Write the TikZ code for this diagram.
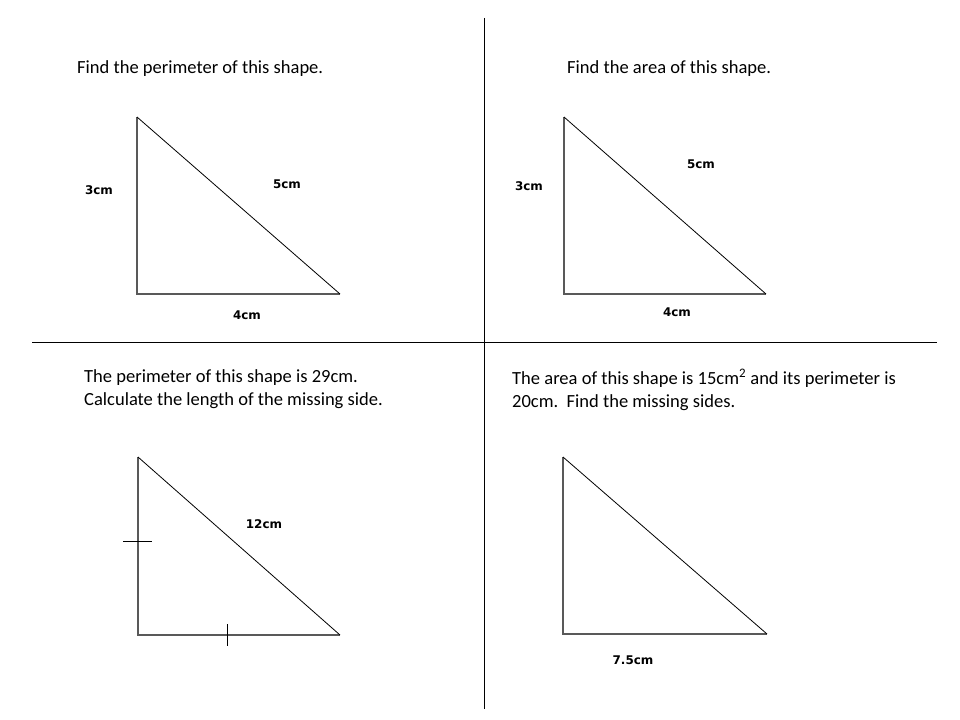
\documentclass[tikz,border=0pt]{standalone}
\usepackage{fontspec}
\setmainfont{Carlito}
\newfontfamily\labelfont{DejaVu Sans}
\usetikzlibrary{positioning}

\begin{document}
\begin{tikzpicture}[x=1bp, y=-1bp,
        question/.style={anchor=base west, inner sep=0pt, align=left,
            font=\fontsize{18.6}{23}\selectfont},
        side/.style={inner sep=0pt, font=\labelfont\bfseries\fontsize{12}{14}\selectfont},
        leg/.style={draw=black!65, line width=1.3bp},
        hyp/.style={draw=black, line width=0.8bp},
        divider/.style={draw=black, line width=1bp},
        tickmark/.style={draw=black, line width=0.8bp}]
    \useasboundingbox (0,0) rectangle (960,720);

    % dividing lines
    \coordinate (vtop) at (484,18);
    \coordinate (vbot) at (484,709);
    \coordinate (hleft) at (32,342.5);
    \coordinate (hright) at (937,342.5);
    \draw[divider] (vtop) -- (vbot);
    \draw[divider] (hleft) -- (hright);

    % top left
    \node[question] (q1) at (77,74) {Find the perimeter of this shape.};
    \coordinate (a1) at (137,117);
    \coordinate (b1) at (137,294);
    \coordinate (c1) at (340,294);
    \draw[leg] (a1) -- (b1) -- (c1);
    \draw[hyp] (c1) -- (a1);
    \node[side] (s1) at (99,190) {3cm};
    \node[side] (h1) at (287,184) {5cm};
    \node[side] (w1) at (247,315) {4cm};

    % top right
    \node[question] (q2) at (567,74) {Find the area of this shape.};
    \coordinate (a2) at (564,117);
    \coordinate (b2) at (564,294);
    \coordinate (c2) at (766,294);
    \draw[leg] (a2) -- (b2) -- (c2);
    \draw[hyp] (c2) -- (a2);
    \node[side] (s2) at (529,186) {3cm};
    \node[side] (h2) at (701,164) {5cm};
    \node[side] (w2) at (677,312) {4cm};

    % bottom left
    \node[question] (q3) at (84,405) {The perimeter of this shape is 29cm.\\
        Calculate the length of the missing side.};
    \coordinate (a3) at (138,457);
    \coordinate (b3) at (138,635);
    \coordinate (c3) at (340,635);
    \draw[leg] (a3) -- (b3) -- (c3);
    \draw[hyp] (c3) -- (a3);
    \node[side] (h3) at (264,524) {12cm};
    % equal sides
    \coordinate (t1) at (123,541);
    \coordinate (t2) at (152,541);
    \coordinate (t3) at (227,624);
    \coordinate (t4) at (227,646);
    \draw[tickmark] (t1) -- (t2);
    \draw[tickmark] (t3) -- (t4);

    % bottom right
    \node[question] (q4) at (512,407) {The area of this shape is 15cm\textsuperscript{2} and its perimeter is\\
        20cm.\ \ Find the missing sides.};
    \coordinate (a4) at (563,457);
    \coordinate (b4) at (563,634);
    \coordinate (c4) at (767,634);
    \draw[leg] (a4) -- (b4) -- (c4);
    \draw[hyp] (c4) -- (a4);
    \node[side] (w4) at (633,660) {7.5cm};
\end{tikzpicture}
\end{document}
